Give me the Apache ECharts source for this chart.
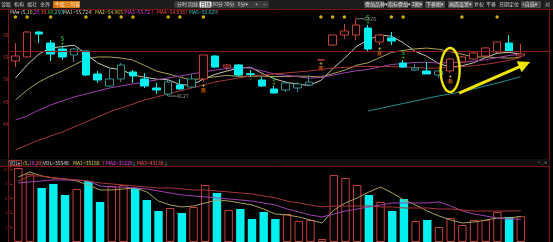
<!DOCTYPE html>
<html><head><meta charset="utf-8">
<script src="https://cdn.jsdelivr.net/npm/echarts@6/dist/echarts.min.js"></script>
<style>html,body{margin:0;padding:0;background:#000;overflow:hidden}#c{width:553px;height:242px}</style>
</head><body><div id="c"></div>
<script>
// ---------------- data ----------------
const days = Array.from({length: 46}, (_, i) => 'D' + (i + 1));
const opens  = [54.16,55.06,60.67,58.20,56.85,55.51,56.40,51.24,48.54,50.11,51.69,50.11,48.09,46.74,48.76,48.31,50.11,55.28,52.81,53.26,51.30,49.89,47.87,47.64,48.09,48.76,54.38,57.75,60.00,60.00,61.57,58.43,59.33,53.71,52.13,51.91,51.01,51.91,53.93,54.61,55.28,56.18,58.20,55.28];
const closes = [55.28,60.67,60.22,55.73,55.06,56.85,51.01,49.89,50.11,53.26,50.79,48.54,47.64,49.44,47.87,50.11,55.51,52.81,53.26,51.01,51.12,48.54,46.97,49.21,48.99,49.44,54.38,60.00,60.90,62.25,56.85,60.00,58.65,52.81,52.58,51.24,51.91,54.61,55.06,55.96,57.08,58.43,56.40,55.73];
const lows   = [52.81,54.83,58.20,54.16,54.38,53.93,50.79,49.21,48.31,49.44,49.21,48.09,46.74,46.27,47.64,48.09,49.44,52.58,52.13,50.56,50.56,48.31,46.74,47.19,47.19,48.54,54.38,57.53,59.10,58.88,56.40,57.75,57.75,52.58,51.91,51.24,50.34,51.46,53.71,54.38,55.06,55.96,56.18,55.06];
const highs  = [58.20,60.90,60.90,58.88,57.53,57.08,56.40,51.91,52.36,53.71,52.13,51.46,49.21,49.89,50.11,51.24,55.51,55.51,53.48,53.48,52.13,50.56,48.54,49.66,49.44,51.01,54.38,60.00,62.47,63.65,62.25,60.22,60.67,54.38,53.48,53.93,52.13,54.83,55.28,56.18,57.30,58.43,60.00,57.98];
// days whose rise is flagged "weak" by the indicator (drawn dim)
const weakUpDays = [5,8,9,13,15,23,24,25,34,36];
const ma5  = [50.34,53.26,55.73,57.08,57.39,57.71,55.78,53.71,52.58,52.22,51.01,50.52,50.07,49.93,48.85,48.72,50.11,51.15,51.91,52.54,52.76,51.37,50.20,49.39,48.99,48.63,49.80,52.40,54.74,57.39,58.88,60.00,59.73,58.29,56.36,55.24,53.62,52.81,53.08,53.75,54.92,55.90,56.10,55.72];
const ma10 = [45.39,47.64,49.44,50.79,51.91,53.26,54.61,55.06,55.06,54.81,54.36,53.15,51.89,51.26,50.54,49.87,50.31,50.61,50.92,50.70,50.74,50.74,50.67,50.65,50.76,50.70,50.58,51.30,52.07,53.19,53.75,54.90,56.07,56.52,56.88,57.06,56.81,56.27,55.69,55.06,55.08,54.92,54.80,54.97];
const ma20 = [40.90,41.80,43.15,44.27,45.17,46.07,46.74,47.42,48.09,48.54,48.99,49.44,49.89,50.34,50.79,51.24,51.69,52.13,52.47,52.75,52.55,51.94,51.28,50.96,50.65,50.28,50.45,50.96,51.49,51.94,52.25,52.82,53.37,53.58,53.82,53.88,53.70,53.79,53.88,54.12,54.42,54.91,55.38,55.72];
const ma30 = [34.16,35.28,36.40,37.30,38.20,39.33,40.45,41.57,42.70,43.60,44.49,45.39,46.07,46.74,47.42,48.09,48.76,49.44,49.89,50.34,50.79,51.01,51.24,51.46,51.69,51.91,52.25,52.58,52.70,52.90,52.95,52.93,52.88,52.81,52.73,52.54,52.57,52.73,52.89,53.10,53.40,53.80,54.30,54.94];
const ma60 = [null,null,null,null,null,null,null,null,null,null,null,null,null,null,null,null,null,null,null,null,null,null,null,null,null,null,null,null,null,null,42.92,43.48,44.04,44.61,45.17,45.73,46.29,46.74,47.30,47.87,48.54,49.21,49.89,50.63];
const volumes = [102000,93800,74500,80000,64800,73100,84100,55200,77200,78600,74500,57900,42700,46900,40000,48300,78600,67600,44100,45500,31700,41400,31700,38600,29000,30300,4100,92400,88300,78600,64800,55200,42700,59300,29000,30300,20700,33100,23400,30300,30300,41400,34500,35548];
const volMa5  = [89600,96500,91000,88300,86900,84100,78600,71700,71700,73100,74500,69000,56500,51000,48300,49600,53800,57900,56500,53800,51000,45500,38600,37200,34500,30300,26200,44100,53800,60700,69000,75800,67600,57900,51000,42700,35900,30300,26200,27600,30300,33100,33100,35188];
const volMa10 = [81400,82700,84100,85500,85500,85500,84100,77200,75800,75800,74500,73100,70300,67600,64800,63400,62100,60700,59300,57900,56500,53800,51000,45500,41400,37200,34500,38600,42700,45500,48300,51000,53800,53800,53800,53800,55200,49600,42700,38600,35900,33100,31700,31229];
const volMa20 = [84100,91000,91000,88300,86900,85500,84100,81400,80000,78600,77200,75800,74500,74500,73100,71700,71700,70300,69000,67600,66200,63400,60700,56500,53800,51000,48300,49600,49600,49600,49600,48300,48300,46900,46900,46900,45500,45500,44100,42700,42700,42700,42700,43138];
const priceTicks = [40, 45, 50, 55, 60];
const volTicks = [20000, 40000, 60000, 80000, 100000];
const buyDays = [16, 26, 31, 37];
const sellDays = [4, 22, 30, 33];
const eventDays = [0,1,3,6,8,9,10,13,14,16,26,27,28,32,33,38,41];
const refPrice = 56.3;
const highMark = {day: 29, price: 63.65};
const lowMark = {day: 13, price: 46.27};
const maHeader = ['MA1=55.724', 'MA2=54.965', 'MA3=55.72', 'MA4=54.938', 'MA5=50.629'];
const volHeader = ['VOL=35548', 'MA1=35188', 'MA2=31229', 'MA3=43138'];

// ---------------- styles ----------------
const FONT = '"Noto Sans CJK SC", "DejaVu Sans", sans-serif';
const UP = '#c4403c', WEAK = '#2f8f8f', DOWN = '#00f0f0', FRAME = '#7a1414';
const chart = echarts.init(document.getElementById('c'), null, {renderer: 'canvas'});

const candleData = opens.map((o, i) => {
  const up = closes[i] >= o;
  const col = up ? (weakUpDays.includes(i) ? WEAK : UP) : DOWN;
  const fill = up ? '#000' : DOWN;
  return {value: [o, closes[i], lows[i], highs[i]],
          itemStyle: {color: fill, color0: fill, borderColor: col, borderColor0: col, borderWidth: 1}};
});
const volData = volumes.map((v, i) => {
  const up = closes[i] >= opens[i];
  return {value: v, itemStyle: up ? {color: '#000', borderColor: UP, borderWidth: 1} : {color: DOWN}};
});
const ln = (name, data, color, x, y) => ({
  type: 'line', name, data, xAxisIndex: x, yAxisIndex: y, showSymbol: false, symbol: 'none',
  lineStyle: {color, width: 1}, z: 3, connectNulls: false, silent: true
});
const lab = {fontSize: 5, fontFamily: FONT};

chart.setOption({
  animation: false,
  backgroundColor: '#000',
  grid: [
    {left: 8, right: 3, top: 12, height: 145},
    {left: 8, right: 3, top: 168, height: 74}
  ],
  xAxis: [0, 1].map(g => ({type: 'category', data: days, gridIndex: g, boundaryGap: true,
    axisLine: {show: false}, axisTick: {show: false}, axisLabel: {show: false}, splitLine: {show: false}})),
  yAxis: [
    {type: 'value', gridIndex: 0, min: 32.58, max: 65.17, splitLine: {show: false}, axisLine: {show: false},
     axisTick: {show: true, length: 2, customValues: priceTicks, lineStyle: {color: '#a02828'}},
     axisLabel: {customValues: priceTicks, margin: 1, color: '#b03030', fontSize: 5, fontFamily: FONT}},
    {type: 'value', gridIndex: 1, min: 0, max: 102000, splitLine: {show: false}, axisLine: {show: false},
     axisTick: {show: true, length: 2, customValues: volTicks, lineStyle: {color: '#a02828'}},
     axisLabel: {customValues: volTicks, margin: 1, color: '#902828', fontSize: 4, fontFamily: FONT,
                 formatter: v => (v / 10000).toFixed(0) + '万'}}
  ],
  series: [
    {type: 'candlestick', data: candleData, xAxisIndex: 0, yAxisIndex: 0, barWidth: '68%', z: 4, silent: true,
     markLine: {silent: true, symbol: 'none', label: {show: false}, lineStyle: {color: '#8a1c1c', width: 1, type: 'solid'},
                data: [{yAxis: refPrice}]}},
    ln('MA5', ma5, '#c8c8b4', 0, 0),
    ln('MA10', ma10, '#a8a050', 0, 0),
    ln('MA20', ma20, '#a040b0', 0, 0),
    ln('MA30', ma30, '#a83434', 0, 0),
    ln('MA60', ma60, '#1e9090', 0, 0),
    {type: 'scatter', xAxisIndex: 0, yAxisIndex: 0, silent: true, symbolSize: 3.5, itemStyle: {color: '#ffd800'},
     data: eventDays.map(d => [d, 64.05]), z: 5},
    {type: 'scatter', xAxisIndex: 0, yAxisIndex: 0, silent: true, symbolSize: 0, z: 6,
     data: sellDays.map(d => [d, highs[d]]),
     label: {show: true, position: 'top', distance: 0, lineHeight: 5, formatter: '{s|S}\n{p|+}',
             rich: {s: {color: '#30d030', fontSize: 6, fontFamily: FONT, fontWeight: 'bold'}, p: {color: '#30d030', fontSize: 6, fontWeight: 'bold'}}}},
    {type: 'scatter', xAxisIndex: 0, yAxisIndex: 0, silent: true, symbolSize: 0, z: 6,
     data: buyDays.map(d => [d, lows[d]]),
     label: {show: true, position: 'bottom', distance: 1, lineHeight: 5, formatter: '{p|+}\n{b|B}',
             rich: {p: {color: '#ffff40', fontSize: 6, fontWeight: 'bold'}, b: {color: '#ff8a1a', backgroundColor: '#5a2000', fontSize: 5, fontFamily: FONT, padding: [0, 1]}}}},
    {type: 'scatter', xAxisIndex: 0, yAxisIndex: 0, silent: true, symbolSize: 0, z: 6,
     data: [[highMark.day, highMark.price], [lowMark.day, lowMark.price]],
     label: {show: true, position: 'right', distance: 0,
             formatter: p => '{l|}{t|' + p.value[1].toFixed(2) + '}',
             rich: {l: {width: 8, height: 1, backgroundColor: '#9a9a9a'}, t: {color: '#b8b8b8', fontSize: 5, fontFamily: FONT}}}},
    {type: 'bar', xAxisIndex: 1, yAxisIndex: 1, data: volData, barWidth: '72%', silent: true, z: 2},
    ln('VMA5', volMa5, '#a8a058', 1, 1),
    ln('VMA10', volMa10, '#a040b0', 1, 1),
    ln('VMA20', volMa20, '#a83434', 1, 1)
  ]
});

// ---------------- chrome & annotations ----------------
function txt(x, y, s, color, size, extra) {
  return Object.assign({type: 'text', x, y, silent: true, z: 20,
    style: {text: s, fill: color, font: (size || 5) + 'px ' + FONT, textVerticalAlign: 'middle', textBaseline: 'middle'}}, extra || {});
}
function rect(x, y, w, h, fill, stroke, r) {
  return {type: 'rect', silent: true, z: 19, shape: {x, y, width: w, height: h, r: r || 0},
    style: {fill: fill || 'none', stroke: stroke || 'none', lineWidth: 1}};
}
function line(x1, y1, x2, y2, color, w) {
  return {type: 'line', silent: true, z: 18, shape: {x1, y1, x2, y2}, style: {stroke: color, lineWidth: w || 1}};
}
const g = [];
// toolbar
g.push(rect(0, 0, 553, 9, '#1c1c1c'));
[['诊股', 1], ['机构', 14], ['福社', 27], ['金界', 40]].forEach(([s, x]) => g.push(txt(x, 4.5, s, '#c8c8c8', 5)));
g.push(rect(53, 1, 27, 7, '#d8720a', null, 1));
g.push(txt(55, 4.5, '牛股三剑客', '#fff4d0', 5));
g.push(rect(174, 1, 95, 7, '#3a3a3a', null, 2));
g.push(rect(199.5, 1.5, 12, 6, '#f0f0f0', null, 1));
[['分时', 177, '#d0d0d0'], ['周线', 188, '#d0d0d0'], ['日线', 200.5, '#111'], ['60分', 212.5, '#d0d0d0'],
 ['30分', 224, '#d0d0d0'], ['5分▾', 237.5, '#d0d0d0'], ['+', 255, '#e0e0e0'], ['−', 263, '#e0e0e0']]
 .forEach(([s, x, c]) => g.push(txt(x, 4.5, s, c, 5)));
[['叠加品种▾', 364, 20], ['指标叠加▾', 387, 21], ['2图▾', 411, 12], ['下移图▾', 425, 20], ['画面设置▾', 448, 25], ['+自选▾', 521, 20]]
 .forEach(([s, x, w]) => { g.push(rect(x, 1, w, 7, '#4a4a4a', null, 1)); g.push(txt(x + 1, 4.5, s, '#e0e0e0', 5)); });
[['复权', 474], ['平移', 486], ['日期定位', 499]].forEach(([s, x]) => g.push(txt(x, 4.5, s, '#d0d0d0', 5)));
g.push(txt(545, 4.5, '对', '#d0d0d0', 5));
// frame lines
g.push(line(0, 9.5, 553, 9.5, FRAME));
g.push(line(8.5, 9.5, 8.5, 242, FRAME));
g.push(line(549.5, 9.5, 549.5, 242, FRAME));
// main header
g.push(txt(10, 12.5, 'MA▾', '#d0d0d0', 5));
g.push({type: 'text', x: 21, y: 12.5, silent: true, z: 20, style: {
  text: '{w|(5,}{y|10,}{m|20,}{r|30,}{g|60,}{c|250)}', textVerticalAlign: 'middle', textBaseline: 'middle',
  rich: {w: {fill: '#d0d0d0', font: '5px ' + FONT}, y: {fill: '#d8c840', font: '5px ' + FONT}, m: {fill: '#e040e0', font: '5px ' + FONT},
         r: {fill: '#ff5050', font: '5px ' + FONT}, g: {fill: '#30c040', font: '5px ' + FONT}, c: {fill: '#30c0c0', font: '5px ' + FONT}}}});
const maCols = ['#d0d0d0', '#d8c840', '#e040e0', '#ff5050', '#30c0c0'];
const maX = [63, 95, 125, 157, 189], arX = [89, 122, 150, 184, 215];
maHeader.forEach((s, i) => { g.push(txt(maX[i], 12.5, s, maCols[i], 5)); g.push(txt(arX[i], 12.5, '↑', '#ff3030', 5)); });
// volume header strip
g.push(rect(0, 159, 549.5, 7, '#101010'));
g.push(line(0, 159.5, 549.5, 159.5, FRAME));
g.push(line(0, 166.5, 549.5, 166.5, FRAME));
g.push(rect(8.5, 160.5, 13, 5, 'none', '#a03030'));
g.push(txt(9.5, 163, 'VOL▾', '#d0d0d0', 4.5));
g.push({type: 'text', x: 23, y: 163, silent: true, z: 20, style: {
  text: '{y|(5,}{m|10,}{r|20)}', textVerticalAlign: 'middle', textBaseline: 'middle',
  rich: {y: {fill: '#d8c840', font: '5px ' + FONT}, m: {fill: '#e040e0', font: '5px ' + FONT}, r: {fill: '#ff5050', font: '5px ' + FONT}}}});
const vCols = ['#d0d0d0', '#d8c840', '#e040e0', '#ff5050'];
const vX = [43, 73, 106, 137];
volHeader.forEach((s, i) => g.push(txt(vX[i], 163, s, vCols[i], 5)));
g.push(txt(101, 163, '↑', '#ff3030', 5));
g.push(txt(131.5, 163, '↓', '#30c0c0', 5));
g.push(txt(163.5, 163, '↓', '#30c0c0', 5));
g.push(txt(538, 162.5, '? _ ✕', '#a0a0a0', 4));

// yellow hand-drawn annotation around the circled day and trend arrow
const anchor = chart.convertToPixel({xAxisIndex: 0, yAxisIndex: 0}, [37, 52.13]);
const cx = anchor[0], cy = anchor[1];
const pts = [];
for (let k = 0; k < 48; k++) { const t = k / 48 * Math.PI * 2; pts.push([cx + 9.5 * Math.cos(t), cy + 22 * Math.sin(t)]); }
g.push({type: 'polygon', silent: true, z: 25, shape: {points: pts}, style: {fill: 'none', stroke: '#f2e600', lineWidth: 2.4}});
const sx = cx + 9, sy = cy + 23, ex = cx + 80, ey = cy - 8;
const dx = ex - sx, dy = ey - sy, L = Math.hypot(dx, dy), ux = dx / L, uy = dy / L;
const hx = ex - ux * 12, hy = ey - uy * 12;
g.push({type: 'line', silent: true, z: 25, shape: {x1: sx, y1: sy, x2: hx + ux * 2, y2: hy + uy * 2}, style: {stroke: '#f2e600', lineWidth: 3}});
g.push({type: 'polygon', silent: true, z: 25, shape: {points: [[ex, ey], [hx - uy * 6, hy + ux * 6], [hx + uy * 6, hy - ux * 6]]}, style: {fill: '#f2e600'}});

chart.setOption({graphic: {elements: g}});
</script></body></html>
